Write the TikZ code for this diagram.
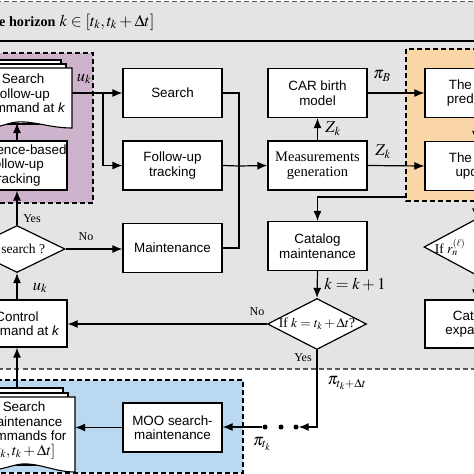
\documentclass[tikz,border=0pt]{standalone}
\usepackage{mathptmx}
\usepackage[no-math]{fontspec}
\setmainfont{Liberation Sans}
\newfontfamily\seriffam{Liberation Serif}
\usetikzlibrary{arrows.meta,shapes.geometric}
\definecolor{grayreg}{RGB}{228,228,228}
\definecolor{purplereg}{RGB}{205,180,204}
\definecolor{orangereg}{RGB}{250,214,166}
\definecolor{bluereg}{RGB}{186,216,240}
\tikzset{
  box/.style={draw, fill=white, line width=1.2pt, minimum width=99pt, minimum height=49pt,
    inner sep=0pt, align=center, font=\fontsize{13.4}{14.5}\selectfont},
  doctext/.style={inner sep=0pt, align=center, font=\fontsize{13.4}{14.5}\selectfont},
  page/.style={draw, fill=white, line width=1.1pt},
  arr/.style={line width=1.2pt, -{Latex[length=10pt,width=8pt]}},
  ln/.style={line width=1.2pt},
  dia/.style={draw, fill=white, diamond, line width=1.2pt, inner sep=0pt},
  lab/.style={inner sep=0pt, font=\fontsize{16.5}{16.5}\selectfont},
  yn/.style={inner sep=0pt, font=\seriffam\fontsize{12}{12}\selectfont},
  region/.style={line width=1.2pt, dash pattern=on 5pt off 3pt},
  dot/.style={circle, fill=black, inner sep=0pt, minimum size=5pt}
}
\begin{document}
\begin{tikzpicture}[x=1pt,y=-1pt]
\useasboundingbox (0,0) rectangle (474,474);
\fill[white] (0,0) rectangle (474,474);
% regions
\filldraw[fill=grayreg, draw=black!65, region] (-10,1.5) rectangle (484,369);
\draw[ln] (-5,41) -- (479,41);
\node[anchor=west, inner sep=0pt] (title) at (-1,22)
  {{\seriffam\bfseries\fontsize{14.2}{14}\selectfont e horizon}\hspace{4pt}{\fontsize{16.5}{16.5}\selectfont$k\in[t_k,t_k+\Delta t]$}};
\filldraw[fill=purplereg, draw=black, region] (-10,53) rectangle (93,203);
\filldraw[fill=orangereg, draw=black, region] (406,49) rectangle (490,201);
\filldraw[fill=bluereg, draw=black, region] (-10,380) rectangle (243,473);

% document 1
\draw[page] (-45,60) rectangle (61,120);
\draw[page] (-40,64) rectangle (66,124);
\draw[page] (-26,68) -- (72,68) -- (72,128)
  .. controls (50,128) and (35,121) .. (17,122)
  .. controls (5,123) and (-5,131) .. (-26,127) -- cycle;
\node[doctext, minimum width=98pt] (doc1) at (23,93.5) {Search\\follow-up\\command at \textit{k}};
\coordinate (d1b) at (17,123);

% document 2
\draw[page] (-45,388) rectangle (63,460);
\draw[page] (-40,393) rectangle (68,465);
\draw[page] (-27,397) -- (75,397) -- (75,472)
  .. controls (55,472) and (40,463) .. (22,464)
  .. controls (10,465) and (0,472) .. (-27,471) -- cycle;
\node[doctext, minimum width=102pt] (doc2) at (24,430.5)
  {Search\\maintenance\\commands for\\{\fontsize{15}{14.5}\selectfont$[t_k,t_k+\Delta t]$}};
\coordinate (d2t) at (17,388);

% boxes
\node[box, minimum width=100pt] (track) at (17,165.5) {Existence-based\\follow-up\\tracking};
\node[box] (search) at (172.5,93) {Search};
\node[box] (follow) at (172.5,165.5) {Follow-up\\tracking};
\node[box] (maint) at (172.5,248) {Maintenance};
\node[box] (car) at (317.5,93) {CAR birth\\model};
\node[box, font=\seriffam\fontsize{14.5}{15}\selectfont] (meas) at (317.5,165.5) {Measurements\\generation};
\node[box, minimum width=102pt] (pred) at (476,93) {The \phantom{LMB}\\prediction};
\node[box, minimum width=102pt] (upd) at (476,166) {The \phantom{LMB}\\update};
\node[box] (catm) at (317.5,246) {Catalog\\maintenance};
\node[box, minimum width=102pt, minimum height=48pt] (catx) at (476,324) {Catalog\\expansion};
\node[box, minimum width=100pt, minimum height=47pt] (ctrl) at (17,323.5) {Control\\command at \textit{k}};
\node[box] (moo) at (172.5,427.5) {MOO search-\\maintenance};

% diamonds
\node[dia, minimum width=96pt, minimum height=47pt,
  label={[font=\seriffam\fontsize{13.5}{14}\selectfont]center:If search ?}] (dia1) at (17,249) {};
\node[dia, minimum width=99pt, minimum height=51pt,
  label={[font=\seriffam\fontsize{13.5}{14}\selectfont]center:If $k=t_k+\Delta t$?}] (dia2) at (317,324) {};
\node[dia, minimum width=104pt, minimum height=56pt,
  label={[font=\seriffam\fontsize{13.5}{14}\selectfont]center:If $r_n^{(\ell)}$\hspace*{52pt}}] (dia3) at (476,247) {};

% dots
\node[dot] (dt1) at (265,427) {};
\node[dot] (dt2) at (281,427) {};
\node[dot] (dt3) at (296,427) {};

% connectors
\coordinate (br1) at (103,93);
\draw[arr] (doc1.east |- search.west) -- (search.west);
\draw[arr] (br1) |- (follow.west);
\draw[arr] (track.north) -- (d1b);
\draw[arr] (dia1.north) -- (track.south);
\draw[arr] (dia1.east) -- (dia1.east -| maint.west);
\coordinate (J) at (239,166);
\draw[ln] (search.east) -| (J);
\draw[ln] (maint.east) -| (J);
\draw[ln] (follow.east) -- (J);
\draw[arr] (J) -- (meas.west);
\draw[arr] (meas.north) -- (car.south);
\draw[arr] (car.east) -- (pred.west);
\draw[arr] (meas.east) -- (upd.west);
\draw[arr] (pred.south) -- (upd.north);
\coordinate (ob) at (406,197);
\draw[arr] (ob) -| (catm.north);
\coordinate (obot) at (476,201);
\draw[arr] (obot) -- (dia3.north);
\draw[arr] (dia3.south) -- (catx.north);
\draw[arr] (catm.south) -- (dia2.north);
\draw[arr] (dia2.west) -- (dia2.west -| ctrl.east);
\draw[arr] (ctrl.north) -- (dia1.south);
\draw[arr] (d2t) -- (ctrl.south);
\draw[arr] (dia2.south) |- (dt3.east);
\draw[arr] (dt1.west) -- (dt1.west -| moo.east);
\draw[arr] (moo.west) -- (moo.west -| doc2.east);

% labels
\node[lab] (luk1) at (84,79) {$u_k$};
\node[yn] (lyes1) at (32,219) {Yes};
\node[yn] (lno1) at (86,237) {No};
\node[lab] (lzk1) at (333,129) {$Z_k$};
\node[lab] (lpib) at (382,76) {$\pi_B$};
\node[lab] (lzk2) at (383,152) {$Z_k$};
\node[lab] (lkk) at (355,284) {$k=k+1$};
\node[yn] (lno2) at (257,312) {No};
\node[lab] (luk2) at (40,288) {$u_k$};
\node[yn] (lyes2) at (303,358) {Yes};
\node[lab] (lpi1) at (347,383) {$\pi_{t_k+\Delta t}$};
\node[lab] (lpi2) at (262,444) {$\pi_{t_k}$};
\end{tikzpicture}
\end{document}
